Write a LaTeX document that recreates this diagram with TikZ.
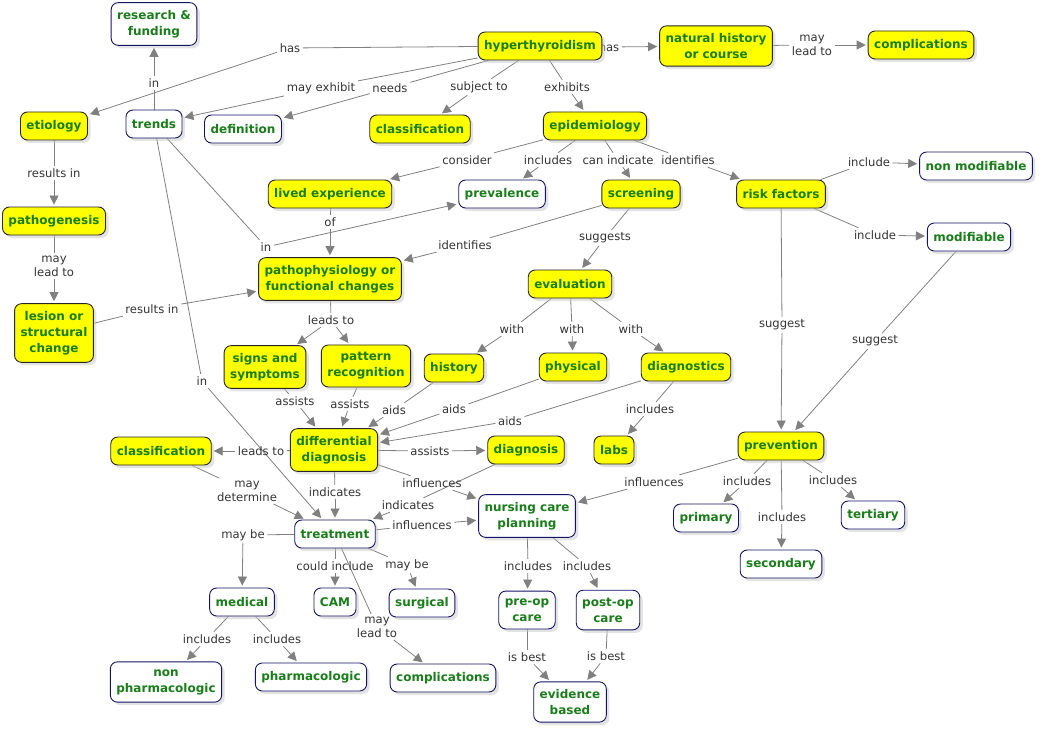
\documentclass[tikz,border=0pt]{standalone}
\usepackage{fontspec}
\setmainfont{DejaVu Sans}
\usetikzlibrary{positioning, arrows.meta, shadows, backgrounds}
\definecolor{cmapgreen}{RGB}{25,125,25}
\definecolor{cmapyellow}{RGB}{255,255,0}
\definecolor{cmapnavy}{RGB}{20,20,100}
\definecolor{cmapline}{RGB}{128,128,128}

\begin{document}
\begin{tikzpicture}[x=1pt,y=-1pt,
    concept/.style={draw=black!85, fill=cmapyellow, rounded corners=7pt, line width=0.9pt,
        font=\fontsize{12}{16}\selectfont\bfseries, text=cmapgreen, align=center,
        minimum height=28pt, inner xsep=6pt, inner ysep=7.5pt,
        drop shadow={shadow xshift=3pt, shadow yshift=-3pt, fill=black!22}},
    resource/.style={concept, fill=white, draw=cmapnavy},
    link/.style={font=\fontsize{11.6}{14}\selectfont, text=black!80, inner sep=2.5pt, align=center},
    line/.style={draw=cmapline, line width=0.8pt},
    arr/.style={line, -{Triangle[length=9pt,width=9pt]}, shorten >=2pt}]
    \useasboundingbox (0,0) rectangle (1040,730);
    %frasi di collegamento
    \node[link] (hasEtio) at (290,48) {has};
    \node[link] (hasNat) at (609,47) {has};
    \node[link] (mayLead1) at (812,45) {may\\lead to};
    \node[link] (mayExhibit) at (321,88) {may exhibit};
    \node[link] (needs) at (390,88) {needs};
    \node[link] (subjectTo) at (479,87) {subject to};
    \node[link] (exhibits) at (567,87) {exhibits};
    \node[link] (inResearch) at (154,83) {in};
    \node[link] (resultsIn1) at (54,173) {results in};
    \node[link] (mayLead2) at (54,266) {may\\lead to};
    \node[link] (consider) at (467,160) {consider};
    \node[link] (inclPrev) at (548,160) {includes};
    \node[link] (canIndicate) at (618,160) {can indicate};
    \node[link] (identRisk) at (688,160) {identifies};
    \node[link] (inclNonMod) at (869,162) {include};
    \node[link] (inclMod) at (875,235) {include};
    \node[link] (of) at (330,222) {of};
    \node[link] (inPrev) at (266,247) {in};
    \node[link] (identPatho) at (465,245) {identifies};
    \node[link] (suggests) at (605,238) {suggests};
    \node[link] (resultsIn2) at (152,309) {results in};
    \node[link] (inTreat) at (202,381) {in};
    \node[link] (leadsTo1) at (331,320) {leads to};
    \node[link] (with1) at (512,329) {with};
    \node[link] (with2) at (572,329) {with};
    \node[link] (with3) at (631,329) {with};
    \node[link] (assists1) at (295,401) {assists};
    \node[link] (assists2) at (350,404) {assists};
    \node[link] (aids1) at (394,410) {aids};
    \node[link] (aids2) at (454,409) {aids};
    \node[link] (aids3) at (510,421) {aids};
    \node[link] (inclLabs) at (650,409) {includes};
    \node[link] (leadsTo2) at (261,451) {leads to};
    \node[link] (assists3) at (430,451) {assists};
    \node[link] (influences1) at (432,483) {influences};
    \node[link] (indicates1) at (335,492) {indicates};
    \node[link] (mayDetermine) at (247,491) {may\\determine};
    \node[link] (indicates2) at (408,505) {indicates};
    \node[link] (influences2) at (422,525) {influences};
    \node[link] (influences3) at (654,482) {influences};
    \node[link] (inclPrimary) at (747,481) {includes};
    \node[link] (inclSecondary) at (782,517) {includes};
    \node[link] (inclTertiary) at (833,480) {includes};
    \node[link] (suggest1) at (782,325) {suggest};
    \node[link] (suggest2) at (875,341) {suggest};
    \node[link] (mayBe1) at (243,535) {may be};
    \node[link] (couldInclude) at (335,566) {could include};
    \node[link] (mayBe2) at (407,565) {may be};
    \node[link] (mayLead3) at (377,627) {may\\lead to};
    \node[link] (inclNonPharm) at (207,639) {includes};
    \node[link] (inclPharm) at (277,639) {includes};
    \node[link] (inclPreOp) at (528,566) {includes};
    \node[link] (inclPostOp) at (587,566) {includes};
    \node[link] (isBest1) at (527,657) {is best};
    \node[link] (isBest2) at (606,656) {is best};
    %concetti
    \node[concept] (hyper) at (540,46) {hyperthyroidism};
    \node[concept] (natHist) at (716,46) {natural history\\or course};
    \node[concept] (complTop) at (921,45) {complications};
    \node[resource] (research) at (154,24) {research \&\\funding};
    \node[concept] (etiology) at (54,126) {etiology};
    \node[resource] (trends) at (154,124) {trends};
    \node[resource] (definition) at (243,129) {definition};
    \node[concept] (classTop) at (420,129) {classification};
    \node[concept] (epidem) at (595,126) {epidemiology};
    \node[concept] (lived) at (330,194) {lived experience};
    \node[resource] (preval) at (502,194) {prevalence};
    \node[concept] (screen) at (641,194) {screening};
    \node[concept] (risk) at (781,194) {risk factors};
    \node[resource] (nonMod) at (976,166) {non modifiable};
    \node[resource] (modif) at (969,237) {modifiable};
    \node[concept] (pathogen) at (54,221) {pathogenesis};
    \node[concept] (pathophys) at (330,279) {pathophysiology or\\functional changes};
    \node[concept] (lesion) at (54,333) {lesion or\\structural\\change};
    \node[concept] (eval) at (570,284) {evaluation};
    \node[concept] (signs) at (265,367) {signs and\\symptoms};
    \node[concept] (pattern) at (366,366) {pattern\\recognition};
    \node[concept] (history) at (454,368) {history};
    \node[concept] (physical) at (573,367) {physical};
    \node[concept] (diagnostics) at (686,367) {diagnostics};
    \node[concept] (diffDiag) at (334,450) {differential\\diagnosis};
    \node[concept] (classMid) at (161,451) {classification};
    \node[concept] (diagnosis) at (526,450) {diagnosis};
    \node[concept] (labs) at (614,450) {labs};
    \node[concept] (prevention) at (781,446) {prevention};
    \node[resource] (nursing) at (527,516) {nursing care\\planning};
    \node[resource] (treatment) at (335,534) {treatment};
    \node[resource] (primary) at (706,518) {primary};
    \node[resource] (tertiary) at (873,515) {tertiary};
    \node[resource] (secondary) at (781,564) {secondary};
    \node[resource] (medical) at (242,602) {medical};
    \node[resource] (cam) at (335,602) {CAM};
    \node[resource] (surgical) at (422,603) {surgical};
    \node[resource] (preOp) at (527,610) {pre-op\\care};
    \node[resource] (postOp) at (608,610) {post-op\\care};
    \node[resource] (nonPharm) at (166,682) {non\\pharmacologic};
    \node[resource] (pharm) at (311,677) {pharmacologic};
    \node[resource] (complBot) at (443,678) {complications};
    \node[resource] (evidence) at (570,702) {evidence\\based};
    %collegamenti
    \begin{scope}[on background layer]
    \draw[line] (hyper) -- (hasEtio); \draw[arr] (hasEtio) -- (etiology);
    \draw[line] (hyper) -- (hasNat); \draw[arr] (hasNat) -- (natHist);
    \draw[line] (natHist) -- (mayLead1); \draw[arr] (mayLead1) -- (complTop);
    \draw[line] (hyper) -- (mayExhibit); \draw[arr] (mayExhibit) -- (trends);
    \draw[line] (hyper) -- (needs); \draw[arr] (needs) -- (definition);
    \draw[line] (hyper) -- (subjectTo); \draw[arr] (subjectTo) -- (classTop);
    \draw[line] (hyper) -- (exhibits); \draw[arr] (exhibits) -- (epidem);
    \draw[line] (trends) -- (inResearch); \draw[arr] (inResearch) -- (research);
    \draw[line] (etiology) -- (resultsIn1); \draw[arr] (resultsIn1) -- (pathogen);
    \draw[line] (pathogen) -- (mayLead2); \draw[arr] (mayLead2) -- (lesion);
    \draw[line] (epidem) -- (consider); \draw[arr] (consider) -- (lived);
    \draw[line] (epidem) -- (inclPrev); \draw[arr] (inclPrev) -- (preval);
    \draw[line] (epidem) -- (canIndicate); \draw[arr] (canIndicate) -- (screen);
    \draw[line] (epidem) -- (identRisk); \draw[arr] (identRisk) -- (risk);
    \draw[line] (risk) -- (inclNonMod); \draw[arr] (inclNonMod) -- (nonMod);
    \draw[line] (risk) -- (inclMod); \draw[arr] (inclMod) -- (modif);
    \draw[line] (lived) -- (of); \draw[arr] (of) -- (pathophys);
    \draw[line] (trends) -- (inPrev); \draw[arr] (inPrev) -- (preval);
    \draw[line] (screen) -- (identPatho); \draw[arr] (identPatho) -- (pathophys);
    \draw[line] (screen) -- (suggests); \draw[arr] (suggests) -- (eval);
    \draw[line] (lesion) -- (resultsIn2); \draw[arr] (resultsIn2) -- (pathophys);
    \draw[line] (trends) -- (inTreat); \draw[arr] (inTreat) -- (treatment);
    \draw[line] (pathophys) -- (leadsTo1); \draw[arr] (leadsTo1) -- (signs); \draw[arr] (leadsTo1) -- (pattern);
    \draw[line] (eval) -- (with1); \draw[arr] (with1) -- (history);
    \draw[line] (eval) -- (with2); \draw[arr] (with2) -- (physical);
    \draw[line] (eval) -- (with3); \draw[arr] (with3) -- (diagnostics);
    \draw[line] (signs) -- (assists1); \draw[arr] (assists1) -- (diffDiag);
    \draw[line] (pattern) -- (assists2); \draw[arr] (assists2) -- (diffDiag);
    \draw[line] (history) -- (aids1); \draw[arr] (aids1) -- (diffDiag);
    \draw[line] (physical) -- (aids2); \draw[arr] (aids2) -- (diffDiag);
    \draw[line] (diagnostics) -- (aids3); \draw[arr] (aids3) -- (diffDiag);
    \draw[line] (diagnostics) -- (inclLabs); \draw[arr] (inclLabs) -- (labs);
    \draw[line] (diffDiag) -- (leadsTo2); \draw[arr] (leadsTo2) -- (classMid);
    \draw[line] (diffDiag) -- (assists3); \draw[arr] (assists3) -- (diagnosis);
    \draw[line] (diffDiag) -- (influences1); \draw[arr] (influences1) -- (nursing);
    \draw[line] (diffDiag) -- (indicates1); \draw[arr] (indicates1) -- (treatment);
    \draw[line] (classMid) -- (mayDetermine); \draw[arr] (mayDetermine) -- (treatment);
    \draw[line] (diagnosis) -- (indicates2); \draw[arr] (indicates2) -- (treatment);
    \draw[line] (treatment) -- (influences2); \draw[arr] (influences2) -- (nursing);
    \draw[line] (prevention) -- (influences3); \draw[arr] (influences3) -- (nursing);
    \draw[line] (prevention) -- (inclPrimary); \draw[arr] (inclPrimary) -- (primary);
    \draw[line] (prevention) -- (inclSecondary); \draw[arr] (inclSecondary) -- (secondary);
    \draw[line] (prevention) -- (inclTertiary); \draw[arr] (inclTertiary) -- (tertiary);
    \draw[line] (risk) -- (suggest1); \draw[arr] (suggest1) -- (prevention);
    \draw[line] (modif) -- (suggest2); \draw[arr] (suggest2) -- (prevention);
    \draw[line] (treatment) -- (mayBe1); \draw[arr] (mayBe1) -- (medical);
    \draw[line] (treatment) -- (couldInclude); \draw[arr] (couldInclude) -- (cam);
    \draw[line] (treatment) -- (mayBe2); \draw[arr] (mayBe2) -- (surgical);
    \draw[line] (treatment) -- (mayLead3); \draw[arr] (mayLead3) -- (complBot);
    \draw[line] (medical) -- (inclNonPharm); \draw[arr] (inclNonPharm) -- (nonPharm);
    \draw[line] (medical) -- (inclPharm); \draw[arr] (inclPharm) -- (pharm);
    \draw[line] (nursing) -- (inclPreOp); \draw[arr] (inclPreOp) -- (preOp);
    \draw[line] (nursing) -- (inclPostOp); \draw[arr] (inclPostOp) -- (postOp);
    \draw[line] (preOp) -- (isBest1); \draw[arr] (isBest1) -- (evidence);
    \draw[line] (postOp) -- (isBest2); \draw[arr] (isBest2) -- (evidence);
    \end{scope}
\end{tikzpicture}
\end{document}
